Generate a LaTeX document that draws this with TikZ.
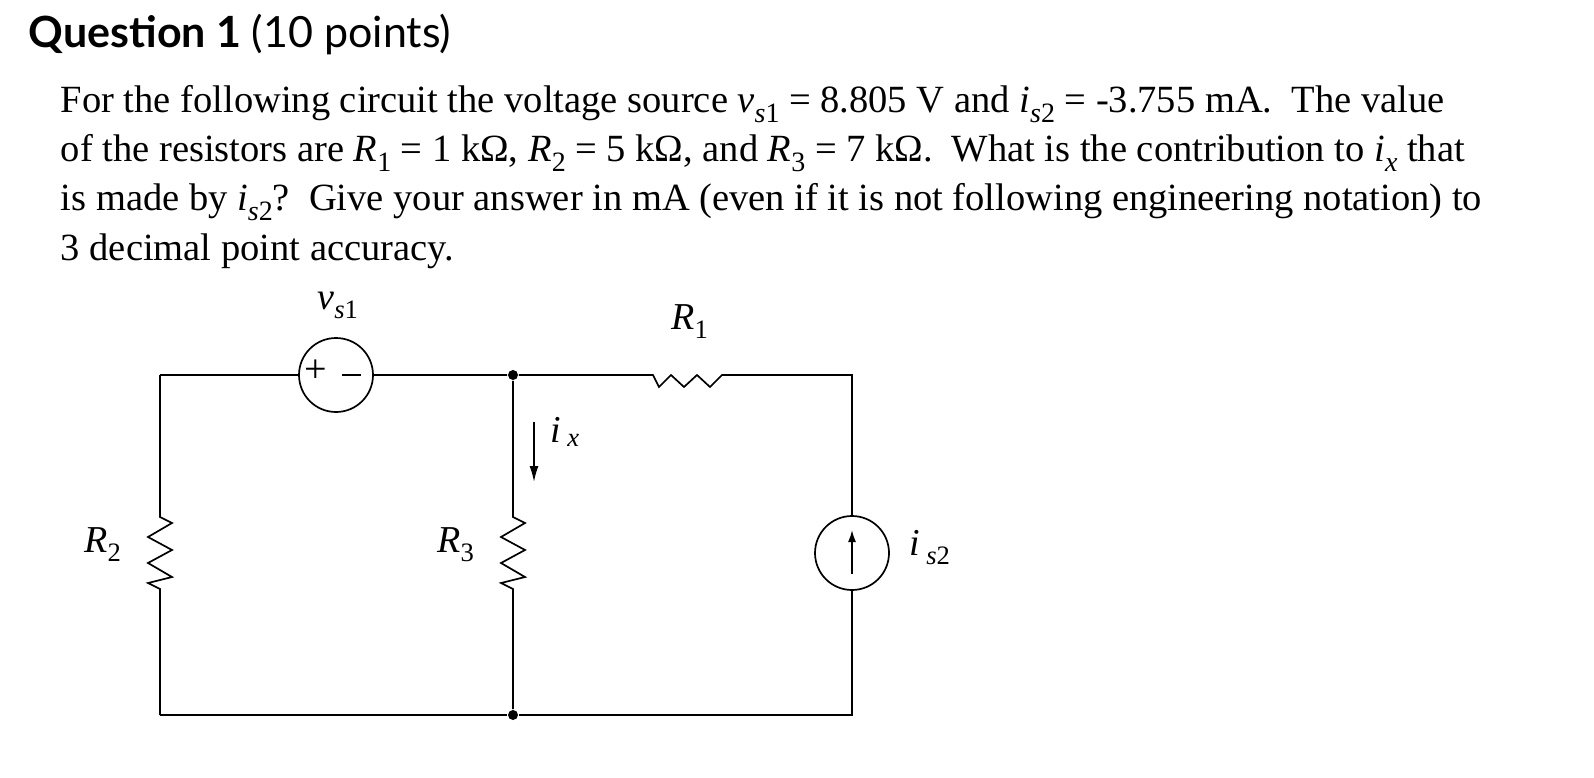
\documentclass[tikz,border=0pt]{standalone}
\usepackage{fontspec}
\usetikzlibrary{arrows.meta}
\setmainfont{Liberation Serif}
\newfontfamily\lato{Lato}
\newcommand{\iv}[2]{\textit{#1}\raisebox{-0.25em}{\fontsize{28}{28}\selectfont #2}}
\begin{document}
\begin{tikzpicture}[x=1pt,y=-1pt,line width=1.7pt,
  txt/.style={anchor=base west,inner sep=0pt,font=\fontsize{38.5}{38.5}\selectfont},
  lbl/.style={inner sep=0pt,font=\fontsize{38}{38}\selectfont},
  dot/.style={circle,fill,inner sep=0pt,minimum size=10pt},
  src/.style={circle,draw,minimum size=74pt,inner sep=0pt}]
\useasboundingbox (0,0) rectangle (1594,778);
\node[anchor=base west,inner sep=0pt,font=\lato\bfseries\fontsize{43}{43}\selectfont] (t) at (28,48) {Question 1 \mdseries(10 points)};
\node[txt] (l1) at (60,113) {For the following circuit the voltage source \iv{v}{\textit{s}1} = 8.805 V and \iv{i}{\textit{s}2} = -3.755 mA.\ \ The value};
\node[txt] (l2) at (60,162) {of the resistors are \iv{R}{1} = 1 kΩ, \iv{R}{2} = 5 kΩ, and \iv{R}{3} = 7 kΩ.\ \ What is the contribution to \iv{i}{\textit{x}} that};
\node[txt] (l3) at (60,211) {is made by \iv{i}{\textit{s}2}?\ \ Give your answer in mA (even if it is not following engineering notation) to};
\node[txt] (l4) at (60,260) {3 decimal point accuracy.};
% circuit
\coordinate (tl) at (160,375); \coordinate (tr) at (852,375);
\coordinate (bl) at (160,715); \coordinate (br) at (852,715);
\node[src] (vs) at (336,375) {};
\node[font=\fontsize{40}{40}\selectfont,inner sep=0pt] at (316,371) {+};
\draw (342,375) -- (361,375);
\node[dot] (na) at (513,375) {};
\node[dot] (nb) at (513,715) {};
\node[src] (is) at (852,553) {};
\draw[-{Latex[length=12pt,width=8pt]}] (852,574) -- (852,530);
\draw (tl) -- (vs.west);
\draw (vs.east) -- (na) -- (653,375)
  -- (659,387) -- (671,375) -- (684,387) -- (697,375) -- (710,387) -- (722,375) -- (728,375) -- (tr) -- (is.north);
\draw (is.south) -- (br) -- (nb) -- (bl);
\draw (tl) -- (160,517) -- (172,523) -- (148,537) -- (172,550) -- (148,563) -- (172,577) -- (148,583) -- (160,589) -- (bl);
\draw (na) -- (513,517) -- (525,523) -- (501,537) -- (525,550) -- (501,563) -- (525,577) -- (501,583) -- (513,589) -- (nb);
\draw[-{Latex[length=16pt,width=9pt]}] (534,422) -- (534,482);
\node[lbl] at (338,305) {\textit{v}\textsubscript{\textit{s}1}};
\node[lbl] at (690,322) {\textit{R}\textsubscript{1}};
\node[lbl] at (103,545) {\textit{R}\textsubscript{2}};
\node[lbl] at (456,545) {\textit{R}\textsubscript{3}};
\node[lbl] at (565,432) {\textit{i}\,\textsubscript{\textit{x}}};
\node[lbl] at (930,548) {\textit{i}\,\textsubscript{\textit{s}2}};
\end{tikzpicture}
\end{document}
